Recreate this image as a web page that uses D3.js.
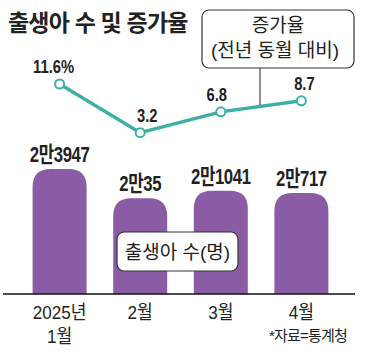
<!DOCTYPE html>
<html lang="ko">
  <head>
    <meta charset="UTF-8" />
    <title>출생아 수 및 증가율</title>
    <script src="https://d3js.org/d3.v7.min.js"></script>
    <style>
      body { margin: 0; background: #fff; }
      text { font-family: "Liberation Sans", Arial, "Noto Sans CJK KR", sans-serif; fill: #222; }
    </style>
  </head>
  <body>
    <svg width="365" height="361"></svg>

    <script>
      // 데이터
      const months = ["2025년\n1월", "2월", "3월", "4월"];
      const births = [23947, 20035, 21041, 20717];
      const birthLabels = ["2만3947", "2만35", "2만1041", "2만717"];
      const growth = [11.6, 3.2, 6.8, 8.7];
      const growthLabels = ["11.6%", "3.2", "6.8", "8.7"];
      // 증가율 라벨 좌우 보정
      const growthLabelDx = [-6, 7, -4, 3];

      const svg = d3.select("svg");
      const purple = "#8b5ca6";
      const teal = "#3cb0a8";
      const baseY = 294;

      const x = d3.scaleBand()
        .domain(months)
        .range([6, 355])
        .padding(0.33);

      // 막대 (기준선 0 아님)
      const yBar = d3.scaleLinear().domain([7200, 23947]).range([baseY, 169]);
      // 증가율 선
      const yLine = d3.scaleLinear().domain([0, 11.6]).range([151.3, 84]);

      // 제목
      svg.append("text")
        .attr("x", 8).attr("y", 31)
        .attr("font-size", 23).attr("font-weight", "bold")
        .attr("letter-spacing", -0.8)
        .text("출생아 수 및 증가율");

      // 막대 - 위쪽 모서리만 둥글게
      const r = 18;
      svg.append("g").selectAll("path")
        .data(births)
        .join("path")
        .attr("fill", purple)
        .attr("d", (d, i) => {
          const x0 = x(months[i]), w = x.bandwidth(), y0 = yBar(d);
          return `M${x0},${baseY}V${y0 + r}Q${x0},${y0} ${x0 + r},${y0}` +
            `H${x0 + w - r}Q${x0 + w},${y0} ${x0 + w},${y0 + r}V${baseY}Z`;
        });

      // 막대 값 라벨
      svg.append("g").selectAll("text")
        .data(births)
        .join("text")
        .attr("transform", (d, i) =>
          `translate(${x(months[i]) + x.bandwidth() / 2},${yBar(d) - 7}) scale(0.76,1)`)
        .attr("text-anchor", "middle")
        .attr("font-size", 22).attr("font-weight", "bold")
        .attr("letter-spacing", -0.5)
        .text((d, i) => birthLabels[i]);

      // 기준선
      svg.append("line")
        .attr("x1", 3).attr("x2", 355)
        .attr("y1", baseY).attr("y2", baseY)
        .attr("stroke", "#111").attr("stroke-width", 1.5);

      // x축 라벨
      svg.append("g").selectAll("text")
        .data(months)
        .join("text")
        .attr("text-anchor", "middle")
        .attr("font-size", 19)
        .attr("transform", (d) => `translate(${x(d) + x.bandwidth() / 2},319) scale(0.9,1)`)
        .each(function (d) {
          d.split("\n").forEach((s, k) => {
            d3.select(this).append("tspan")
              .attr("x", 0).attr("dy", k ? 24 : 0).text(s);
          });
        });

      // 출생아 수 범례 상자
      const lg = svg.append("g").attr("transform", "translate(117,232)");
      lg.append("rect")
        .attr("width", 121).attr("height", 39).attr("rx", 7)
        .attr("fill", "#fff").attr("stroke", "#333").attr("stroke-width", 1.2);
      lg.append("text")
        .attr("x", 60.5).attr("y", 27)
        .attr("text-anchor", "middle").attr("font-size", 19)
        .text("출생아 수(명)");

      // 증가율 범례 상자와 지시선
      svg.append("line")
        .attr("x1", 260).attr("x2", 260)
        .attr("y1", 68).attr("y2", 106)
        .attr("stroke", "#222").attr("stroke-width", 1);
      const lg2 = svg.append("g").attr("transform", "translate(202,10)");
      lg2.append("rect")
        .attr("width", 152).attr("height", 58).attr("rx", 7)
        .attr("fill", "#fff").attr("stroke", "#333").attr("stroke-width", 1.2);
      lg2.append("text")
        .attr("x", 76).attr("y", 22)
        .attr("text-anchor", "middle").attr("font-size", 19)
        .text("증가율");
      lg2.append("text")
        .attr("x", 73).attr("y", 47)
        .attr("text-anchor", "middle").attr("font-size", 19)
        .text("(전년 동월 대비)");

      // 증가율 선
      const line = d3.line()
        .x((d, i) => x(months[i]) + x.bandwidth() / 2)
        .y((d) => yLine(d));

      svg.append("path")
        .datum(growth)
        .attr("d", line)
        .attr("fill", "none")
        .attr("stroke", teal).attr("stroke-width", 3.5);

      svg.append("g").selectAll("circle")
        .data(growth)
        .join("circle")
        .attr("cx", (d, i) => x(months[i]) + x.bandwidth() / 2)
        .attr("cy", (d) => yLine(d))
        .attr("r", 4.5)
        .attr("fill", "#fff").attr("stroke", teal).attr("stroke-width", 2);

      svg.append("g").selectAll("text")
        .data(growth)
        .join("text")
        .attr("transform", (d, i) =>
          `translate(${x(months[i]) + x.bandwidth() / 2 + growthLabelDx[i]},${yLine(d) - 11}) scale(0.82,1)`)
        .attr("text-anchor", "middle")
        .attr("font-size", 18).attr("font-weight", "bold")
        .text((d, i) => growthLabels[i]);

      // 출처
      svg.append("text")
        .attr("x", 347).attr("y", 341)
        .attr("text-anchor", "end").attr("font-size", 15)
        .attr("letter-spacing", -0.8)
        .text("*자료=통계청");
    </script>
  </body>
</html>
